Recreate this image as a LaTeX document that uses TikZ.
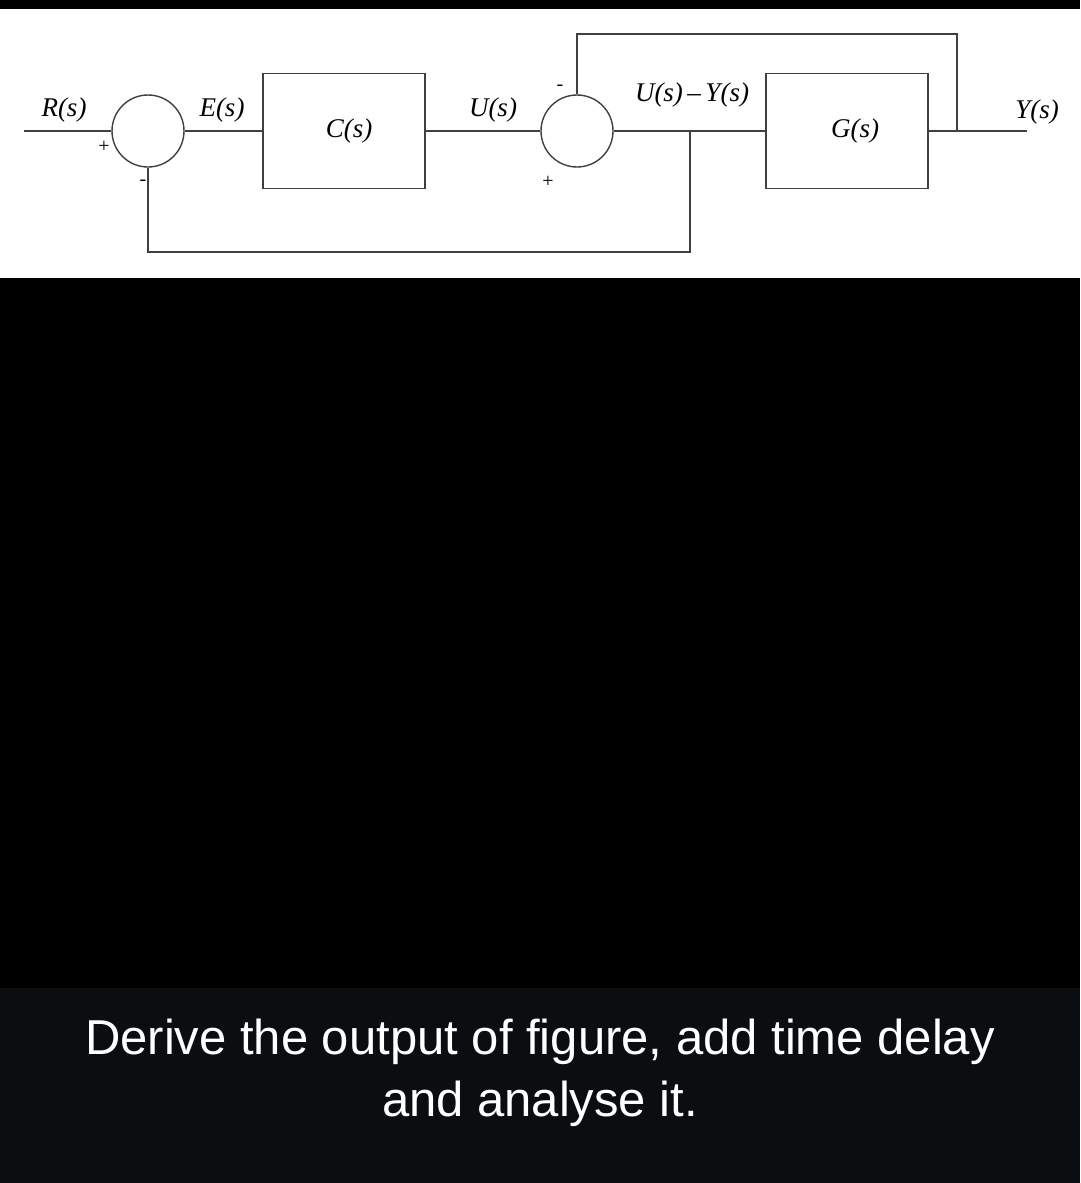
\documentclass[tikz,border=0pt]{standalone}
\usepackage{fontspec}
\setmainfont{Liberation Serif}
\newfontfamily\capfont{Liberation Sans}
\begin{document}
\begin{tikzpicture}[x=1pt,y=-1pt,
  ln/.style={draw=black!75,line width=1.4pt},
  blk/.style={ln,fill=white,minimum width=162pt,minimum height=115pt,inner sep=0pt},
  sumc/.style={ln,fill=white,circle,minimum size=72pt,inner sep=0pt},
  lab/.style={font=\fontsize{27}{29}\selectfont\itshape,inner sep=0pt},
  sgn/.style={font=\fontsize{20}{22}\selectfont,inner sep=0pt}]
\useasboundingbox (0,0) rectangle (1080,1183);
\fill[black] (0,0) rectangle (1080,1183);
\fill[white] (0,9) rectangle (1080,278);
\fill[fill={rgb,255:red,11;green,14;blue,17}] (0,988) rectangle (1080,1183);
\node[sumc] (s1) at (148,131) {};
\node[sumc] (s2) at (577,131) {};
\node[blk] (C) at (344,131) {};
\node[blk] (G) at (847,131) {};
\coordinate (in) at (24,131);
\coordinate (br) at (690,131);
\coordinate (bo) at (957,131);
\coordinate (out) at (1027,131);
\draw[ln] (in) -- (s1.west);
\draw[ln] (s1.east) -- (C.west);
\draw[ln] (C.east) -- (s2.west);
\draw[ln] (s2.east) -- (G.west);
\draw[ln] (G.east) -- (out);
\draw[ln] (bo) |- (577,34) -- (s2.north);
\draw[ln] (br) |- (148,252) -- (s1.south);
\node[lab] at (349,131) {C(s)};
\node[lab] at (855,131) {G(s)};
\node[lab] at (64,110) {R(s)};
\node[lab] at (222,110) {E(s)};
\node[lab] at (493,110) {U(s)};
\node[lab] at (692,95) {U(s)\,\textup{--}\,Y(s)};
\node[lab] at (1037,112) {Y(s)};
\node[sgn] at (104,147) {+};
\node[sgn] at (143,183) {-};
\node[sgn] at (560,88) {-};
\node[sgn] at (548,182) {+};
\node[text=white,font=\capfont\fontsize{49}{62}\selectfont,align=center] at (540,1073)
  {Derive the output of figure, add time delay\\and analyse it.};
\end{tikzpicture}
\end{document}
